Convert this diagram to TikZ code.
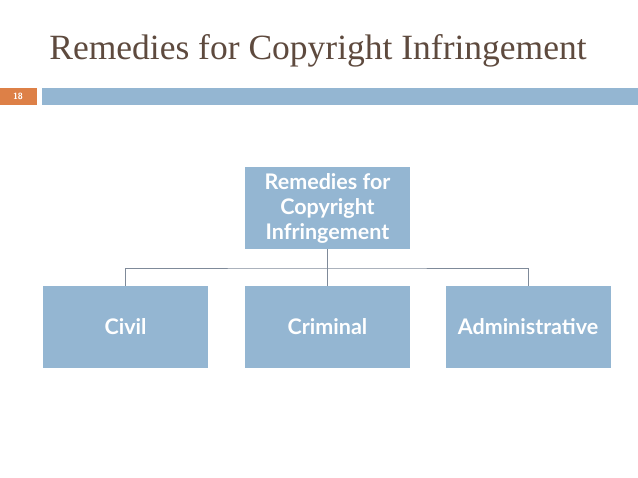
\documentclass[tikz,border=0pt]{standalone}
\usepackage{fontspec}
\setmainfont{Liberation Serif}
\newfontfamily\boxfont{Lato}
\definecolor{bluebox}{HTML}{94B6D2}
\definecolor{orng}{HTML}{DD8047}
\definecolor{titlec}{HTML}{5E4A3E}
\definecolor{linec}{HTML}{7F8A99}
\begin{document}
\begin{tikzpicture}[x=1pt,y=-1pt,
  box/.style={fill=bluebox,draw=none,minimum width=165pt,minimum height=82pt,inner sep=0pt,
    text=white,font=\boxfont\bfseries\fontsize{21.5}{25}\selectfont,align=center},
  conn/.style={draw=linec,line width=0.8pt}]
\useasboundingbox (0,0) rectangle (638,478);
\fill[white] (0,0) rectangle (638,478);
\node[text=titlec,font=\fontsize{35.5}{40}\selectfont] (title) at (318,51) {Remedies for Copyright Infringement};
\fill[orng] (0,88) rectangle (37,105);
\node[text=white,font=\sffamily\bfseries\fontsize{9}{10}\selectfont] (num) at (18,96.5) {18};
\fill[bluebox] (42,88) rectangle (638,105);
\node[box] (top) at (327.5,208) {Remedies for\\Copyright\\Infringement};
\node[box] (civil) at (125.5,327) {Civil};
\node[box] (crim) at (327.5,327) {Criminal};
\node[box] (adm) at (528,327) {Administrative};
\coordinate (j) at (327.5,268);
\draw[conn] (top.south) -- (j);
\draw[conn] (civil.north) |- (j) -| (adm.north);
\draw[conn] (j) -- (crim.north);
\end{tikzpicture}
\end{document}
